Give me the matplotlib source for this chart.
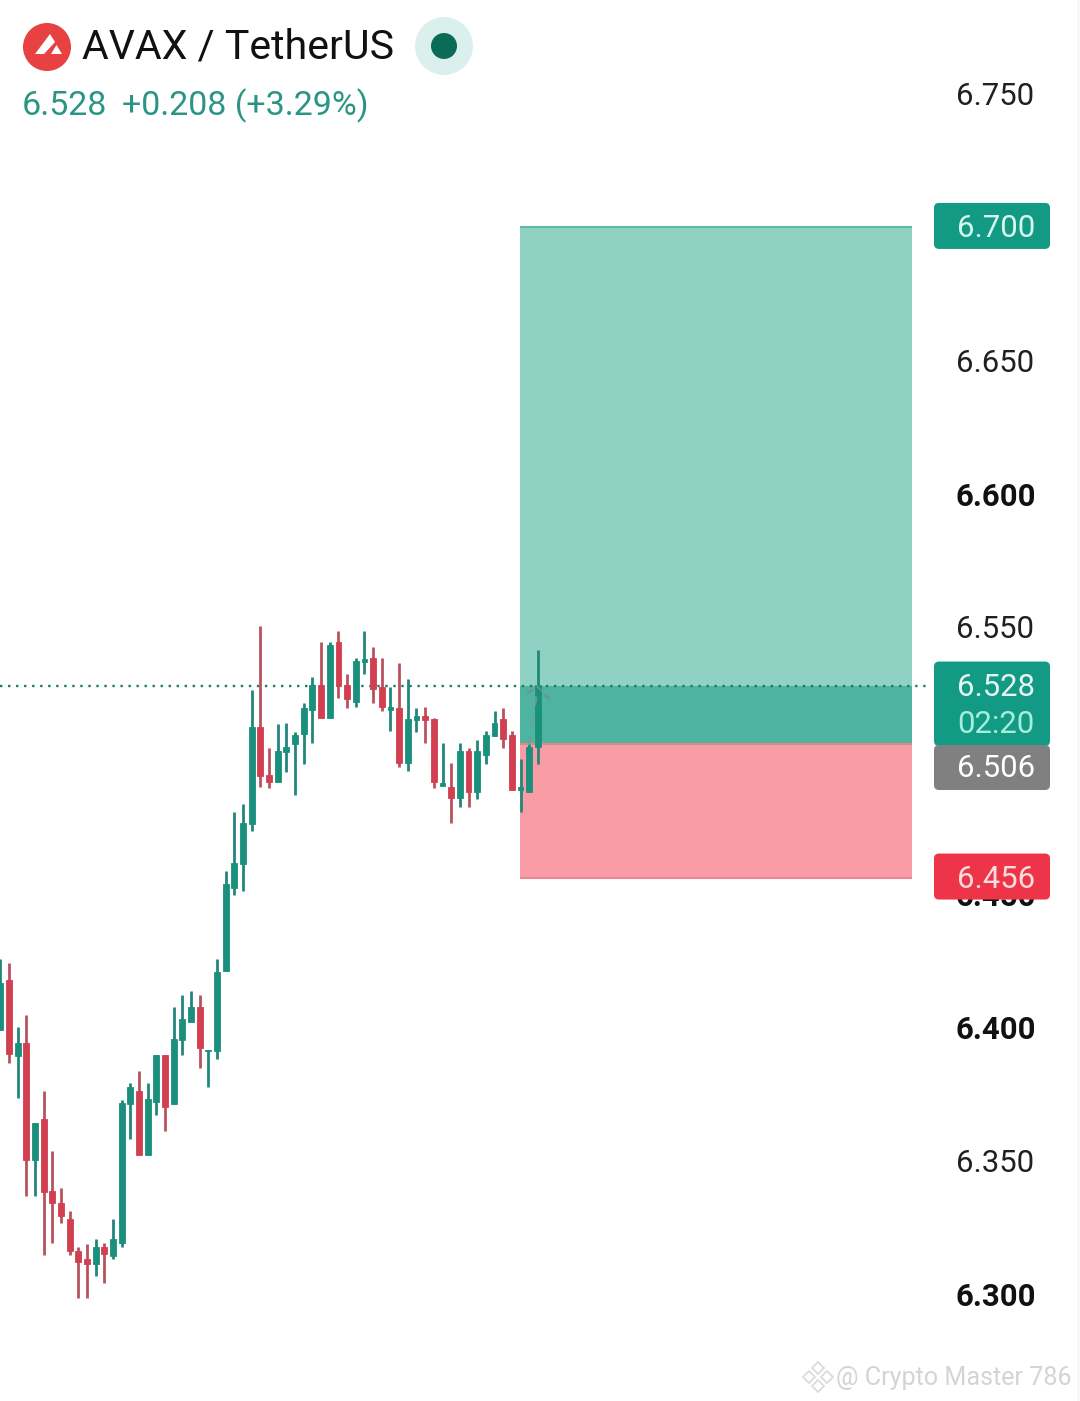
import matplotlib
matplotlib.use("Agg")
import matplotlib.pyplot as plt
import numpy as np
from matplotlib.patches import Circle, FancyBboxPatch, Polygon

plt.rcParams['font.family'] = ['Roboto', 'DejaVu Sans']

# candles
highs = [6.4253, 6.4241, 6.4001, 6.4043, 6.3641, 6.3761, 6.3533, 6.3394, 6.3311, 6.3173, 6.3184, 6.3203, 6.3191,
         6.3281, 6.3724, 6.3791, 6.3833, 6.3791, 6.3893, 6.3893, 6.4073, 6.4121, 6.4133, 6.4121, 6.3915, 6.4253,
         6.4583, 6.4804, 6.4834, 6.5265, 6.5505, 6.5044, 6.5134, 6.5141, 6.5104, 6.5213, 6.5314, 6.5445, 6.5445,
         6.5483, 6.5325, 6.5385, 6.5483, 6.5423, 6.5385, 6.5273, 6.5363, 6.5303, 6.5194, 6.5201, 6.5160, 6.5063,
         6.4991, 6.5063, 6.5044, 6.5074, 6.5111, 6.5183, 6.5194, 6.5111, 6.5003, 6.5059, 6.5415]
body_top = [6.4166, 6.4174, 6.3941, 6.3941, 6.3641, 6.3653, 6.3383, 6.3341, 6.3281, 6.3161, 6.3131, 6.3173, 6.3173,
            6.3203, 6.3713, 6.3773, 6.3761, 6.3731, 6.3893, 6.3893, 6.3953, 6.4031, 6.4073, 6.4073, 6.3915, 6.4204,
            6.4534, 6.4613, 6.4763, 6.5123, 6.5123, 6.4943, 6.5033, 6.5051, 6.5093, 6.5194, 6.5284, 6.5284, 6.5434,
            6.5445, 6.5284, 6.5374, 6.5378, 6.5385, 6.5273, 6.5198, 6.5194, 6.5153, 6.5164, 6.5164, 6.5153, 6.4916,
            6.4901, 6.5033, 6.5033, 6.5033, 6.5093, 6.5141, 6.5153, 6.5093, 6.4898, 6.5051, 6.5284]
body_bot = [6.3990, 6.3900, 6.3889, 6.3499, 6.3499, 6.3379, 6.3338, 6.3289, 6.3158, 6.3120, 6.3109, 6.3109, 6.3150,
            6.3139, 6.3188, 6.3709, 6.3518, 6.3518, 6.3720, 6.3698, 6.3709, 6.3949, 6.4020, 6.3919, 6.3911, 6.3908,
            6.4208, 6.4519, 6.4609, 6.4759, 6.4939, 6.4920, 6.4920, 6.5029, 6.5059, 6.5100, 6.5190, 6.5160, 6.5160,
            6.5280, 6.5231, 6.5220, 6.5370, 6.5269, 6.5198, 6.5190, 6.4988, 6.4988, 6.5149, 6.5149, 6.4920, 6.4905,
            6.4860, 6.4860, 6.4879, 6.4879, 6.5018, 6.5089, 6.5081, 6.4890, 6.4890, 6.4879, 6.5048]
lows = [6.3990, 6.3866, 6.3735, 6.3364, 6.3364, 6.3146, 6.3191, 6.3266, 6.3146, 6.2985, 6.2985, 6.3064, 6.3041,
        6.3131, 6.3176, 6.3581, 6.3518, 6.3518, 6.3671, 6.3611, 6.3709, 6.3893, 6.4020, 6.3844, 6.3773, 6.3881,
        6.4208, 6.4493, 6.4511, 6.4733, 6.4901, 6.4894, 6.4920, 6.4954, 6.4871, 6.4984, 6.5063, 6.5160, 6.5160,
        6.5235, 6.5194, 6.5201, 6.5325, 6.5213, 6.5183, 6.5111, 6.4973, 6.4961, 6.5104, 6.5063, 6.4894, 6.4905,
        6.4763, 6.4823, 6.4823, 6.4853, 6.4984, 6.5089, 6.5044, 6.4890, 6.4804, 6.4879, 6.4984]
up_bars = [0, 2, 4, 11, 13, 14, 15, 17, 18, 20, 21, 22, 24, 25, 26, 27, 28, 29, 32, 33, 34, 35, 36, 38, 41, 42, 45,
           47, 48, 51, 53, 55, 56, 57, 60, 61, 62]

# long position tool
last_price = 6.528
entry = 6.506
target = 6.700
stop = 6.456
pos_start = 59.94
pos_end = 105.15

tick_prices = [6.30, 6.35, 6.40, 6.45, 6.55, 6.60, 6.65, 6.75]
bold_ticks = [6.30, 6.40, 6.45, 6.60]

GREEN = '#1a907c'
RED = '#d23f50'

W, H = 1080, 1401
y_top, y_bot = 6.7851, 6.2597


def py(price):
    # price -> pixel row, for the overlay
    return (y_top - price) / (y_top - y_bot) * H


fig = plt.figure(figsize=(W / 100, H / 100), dpi=100, facecolor='white')
ax = fig.add_axes([0, 0, 935 / W, 1])
ax.set_xlim(-0.035, 107.8)
ax.set_ylim(y_bot, y_top)
for s in ax.spines.values():
    s.set_visible(False)

# position boxes
ax.fill_between([pos_start, pos_end], entry, target, color='#8fd1c3', lw=0, zorder=1)
ax.fill_between([pos_start, pos_end], stop, entry, color='#f99ca5', lw=0, zorder=1)
ax.fill_between([pos_start, pos_end], entry, last_price, color='#4fb3a2', lw=0, zorder=1.5)
ax.hlines(target, pos_start, pos_end, color='#62b9a8', lw=1.5, zorder=2)
ax.hlines(entry, pos_start, pos_end, color='#d98b90', lw=1.5, zorder=2)
ax.hlines(stop, pos_start, pos_end, color='#e98591', lw=1.5, zorder=2)

# last price line
ax.plot([-0.035, 107.3], [last_price, last_price], color='#1f7a68', lw=1.7, ls=(0, (1, 2.4)), zorder=2.5)

# candles
idx = np.arange(len(highs))
top = np.array(body_top)
bot = np.array(body_bot)
colors = [GREEN if i in up_bars else RED for i in idx]
wick_colors = ['#23867a' if i in up_bars else '#b9525f' for i in idx]
ax.vlines(idx, lows, highs, colors=wick_colors, lw=2.0, zorder=3)
ax.bar(idx, top - bot, bottom=bot, width=0.68, color=colors, edgecolor=colors, lw=0.6, zorder=4)

ax.set_xticks([])
ax.yaxis.tick_right()
ax.set_yticks(tick_prices)
ax.set_yticklabels([f'{p:.3f}' for p in tick_prices], fontsize=22.4, color='#202020')
ax.tick_params(axis='y', length=0, pad=15)
for lab, p in zip(ax.get_yticklabels(), tick_prices):
    if p in bold_ticks:
        lab.set_fontweight('bold')
        lab.set_color('#111111')

# overlay in pixel rows: header, price tags, watermark
ov = fig.add_axes([0, 0, 1, 1], zorder=5)
ov.set_xlim(0, W)
ov.set_ylim(H, 0)
ov.axis('off')


def tag(y0, y1, color):
    ov.add_patch(FancyBboxPatch((936, y0 + 2), 112, y1 - y0 - 4, boxstyle='round,pad=2,rounding_size=5',
                                fc=color, ec='none'))


tag(py(target) - 24, py(target) + 22, '#129a85')
tag(py(last_price) - 24, 746, '#129a85')
tag(745, 790, '#808080')
tag(py(stop) - 24, py(stop) + 22, '#ee3448')
ov.text(996, py(target) + 2, '6.700', color='#d8f5ee', fontsize=22.4, ha='center', va='center')
ov.text(996, py(last_price) + 2, '6.528', color='#e6f7f3', fontsize=22.4, ha='center', va='center')
ov.text(996, 724.5, '02:20', color='#a5eeda', fontsize=22.4, ha='center', va='center')
ov.text(996, 768.5, '6.506', color='white', fontsize=22.4, ha='center', va='center')
ov.text(996, py(stop) + 2, '6.456', color='#fbdcdf', fontsize=22.4, ha='center', va='center')

# faint dashed drawing on the last candle
ov.plot([529, 537], [745, 692], color='#6f9f95', lw=1.6, ls=(0, (4, 5)), alpha=0.9, zorder=6)
ov.plot([527, 537, 549], [694, 686, 699], color='#6f8f88', lw=1.6, ls=(0, (3.5, 2)), alpha=0.85, zorder=6)

# header
ov.add_patch(Circle((47, 47), 24, fc='#e84142', ec='none'))
ov.add_patch(Polygon([(50, 34), (35, 54), (44, 54), (55, 42)], fc='white', ec='none'))
ov.add_patch(Polygon([(51, 54), (62, 54), (56.5, 45)], fc='white', ec='none'))
ov.text(82, 47, 'AVAX / TetherUS', fontsize=29.6, color='#111111', ha='left', va='center')
ov.add_patch(Circle((444, 46), 29, fc='#dbf0ec', ec='none'))
ov.add_patch(Circle((444, 46), 13, fc='#0b6b57', ec='none'))
ov.text(22, 106, '6.528', fontsize=24.5, color='#2a9585', ha='left', va='center')
ov.text(122, 106, '+0.208 (+3.29%)', fontsize=24.5, color='#2a9585', ha='left', va='center')

# watermark
for dx, dy in [(0, -9), (-9, 0), (9, 0), (0, 9)]:
    ov.add_patch(Polygon([(818 + dx, 1377 + dy - 6), (818 + dx + 6, 1377 + dy), (818 + dx, 1377 + dy + 6),
                          (818 + dx - 6, 1377 + dy)], fc='none', ec='#dcdcdc', lw=1.3))
ov.text(836, 1378, '@ Crypto Master 786', fontsize=18.1, color='#d4d4d4', ha='left', va='center')
ov.plot([1077.5, 1077.5], [0, H], color='#f2f2f2', lw=1)

fig.savefig('out.png', dpi=100)
